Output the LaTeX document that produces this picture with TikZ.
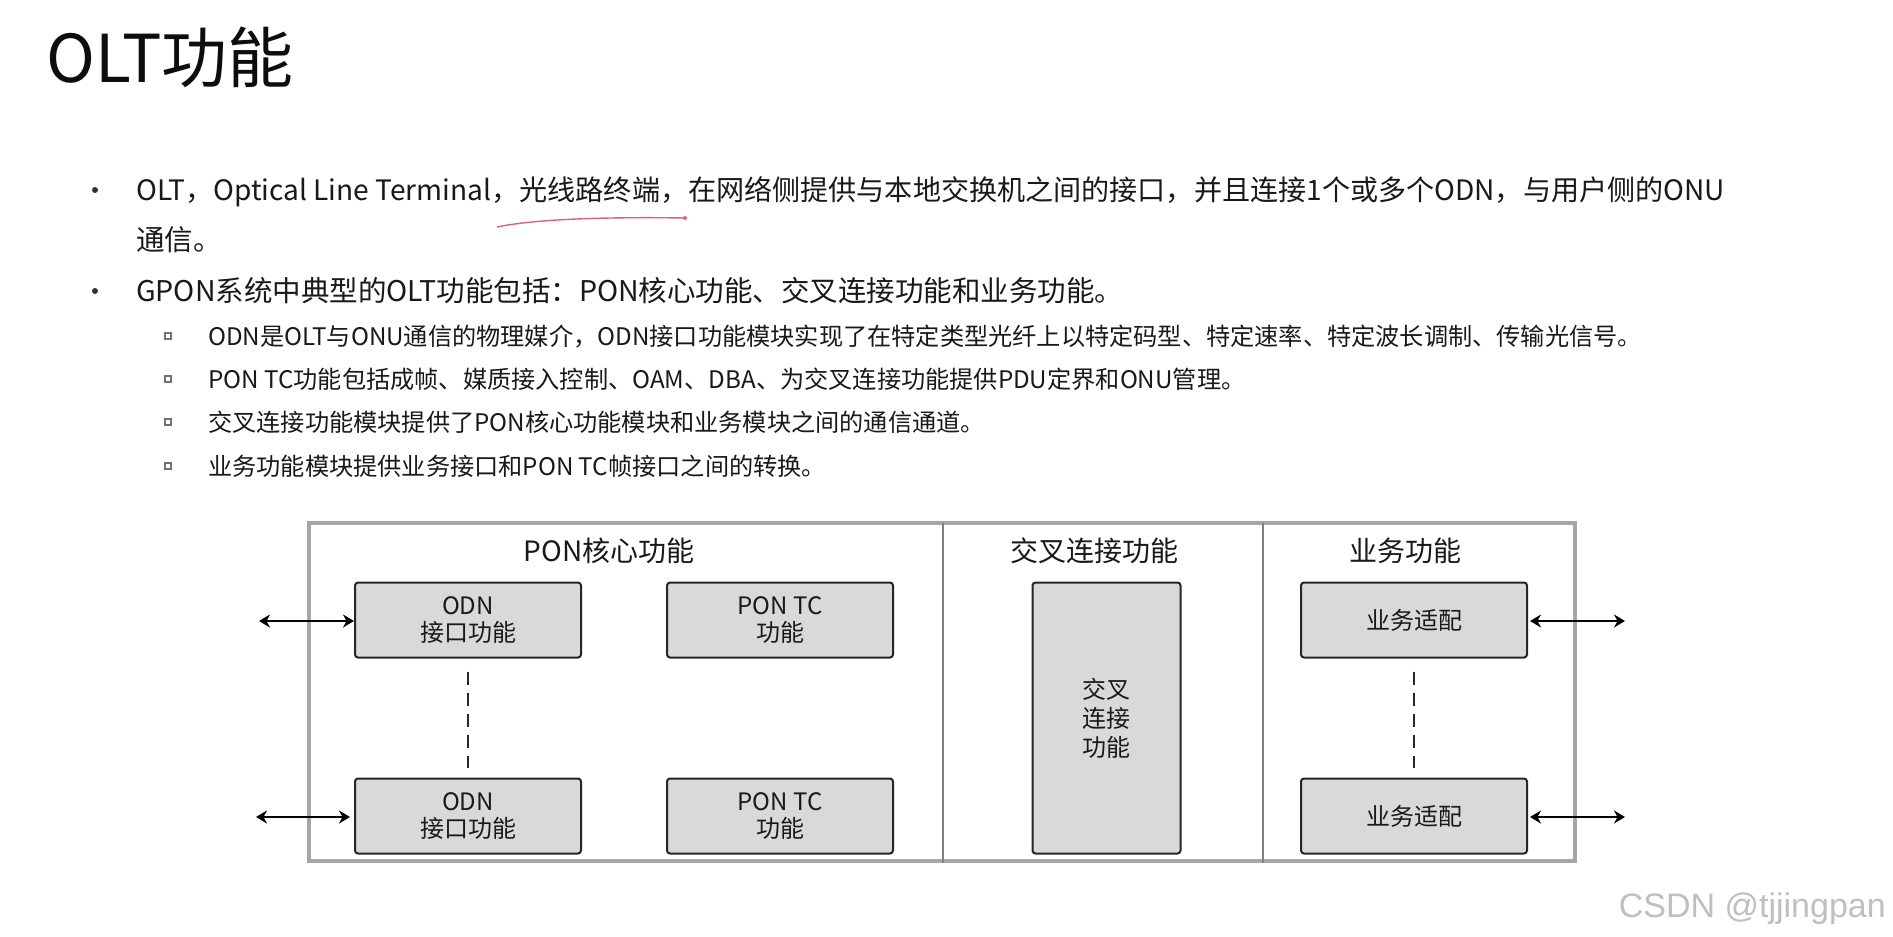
\documentclass[tikz,border=0pt]{standalone}
\usepackage{fontspec}
\setmainfont{Noto Sans CJK SC}
\usepackage{tikz}
\usetikzlibrary{arrows.meta, positioning}
\definecolor{boxgray}{RGB}{217, 217, 217}
\definecolor{framegray}{RGB}{166, 166, 166}
\definecolor{inkred}{RGB}{226, 96, 116}
\tikzset{
  titletext/.style={anchor=base west, inner sep=0pt, font=\fontsize{66}{68}\selectfont, text=black!95},
  maintext/.style={anchor=base west, inner sep=0pt, font=\fontsize{28.5}{32}\selectfont, text=black!90},
  subtext/.style={anchor=base west, inner sep=0pt, font=\fontsize{24.2}{28}\selectfont, text=black!90},
  headtext/.style={inner sep=0pt, font=\fontsize{28}{32}\selectfont, text=black!90},
  mainbullet/.style={circle, fill=black!80, inner sep=0pt, minimum size=6pt},
  subbullet/.style={rectangle, draw=black!55, line width=1.2pt, fill=white, inner sep=0pt, minimum size=6pt},
  funcbox/.style={draw=black!85, fill=boxgray, line width=2pt, rounded corners=3pt, inner sep=0pt, align=center, text=black!90, font=\fontsize{24}{28}\selectfont},
  smallbox/.style={funcbox, minimum width=226pt, minimum height=75pt},
  biarrow/.style={{Stealth[length=11pt,width=13pt]}-{Stealth[length=11pt,width=13pt]}, line width=2.8pt, black},
  gapline/.style={dashed, dash pattern=on 13pt off 8pt, line width=2.8pt, black!85},
  divider/.style={draw=black!50, line width=1.8pt},
}
\begin{document}
\begin{tikzpicture}[x=1pt, y=-1pt]
  \useasboundingbox (0,0) rectangle (1893,937);
  \fill[white] (0,0) rectangle (1893,937);

  \node[titletext] (title) at (46, 82) {OLT功能};

  \node[mainbullet] (b1) at (95, 190) {};
  \node[mainbullet] (b2) at (95, 291) {};
  \node[maintext, font=\fontsize{28.1}{32}\selectfont] (line1) at (136, 200) {OLT，Optical Line Terminal，光线路终端，在网络侧提供与本地交换机之间的接口，并且连接1个或多个ODN，与用户侧的ONU};
  \node[maintext] (line1b) at (136, 250) {通信。};
  \node[maintext] (line2) at (136, 301) {GPON系统中典型的OLT功能包括：PON核心功能、交叉连接功能和业务功能。};

  \node[subbullet] (s1) at (168, 336) {};
  \node[subbullet] (s2) at (168, 379) {};
  \node[subbullet] (s3) at (168, 422) {};
  \node[subbullet] (s4) at (168, 466) {};
  \node[subtext] (sub1) at (208, 345) {ODN是OLT与ONU通信的物理媒介，ODN接口功能模块实现了在特定类型光纤上以特定码型、特定速率、特定波长调制、传输光信号。};
  \node[subtext] (sub2) at (208, 388) {PON TC功能包括成帧、媒质接入控制、OAM、DBA、为交叉连接功能提供PDU定界和ONU管理。};
  \node[subtext] (sub3) at (208, 431) {交叉连接功能模块提供了PON核心功能模块和业务模块之间的通信通道。};
  \node[subtext] (sub4) at (208, 475) {业务功能模块提供业务接口和PON TC帧接口之间的转换。};

  % hand mark under the term
  \draw[inkred, line width=1.4pt] (497, 227) .. controls (540, 218) and (620, 217) .. (686, 218);
  \fill[inkred] (685, 218) circle (2pt);

  % frame and columns
  \node[draw=framegray, line width=3.5pt, minimum width=1266pt, minimum height=338pt, inner sep=0pt] (frame) at (942, 692) {};
  \coordinate (c1) at (943, 523);
  \coordinate (c2) at (1263, 523);
  \draw[divider] (c1) -- (c1 |- frame.south);
  \draw[divider] (c2) -- (c2 |- frame.south);

  \node[headtext] (headpon) at (609, 551) {PON核心功能};
  \node[headtext] (headcross) at (1094, 551) {交叉连接功能};
  \node[headtext] (headserv) at (1405, 551) {业务功能};

  \node[smallbox] (odntop) at (468, 620) {ODN\\[-0.5pt]接口功能};
  \node[smallbox] (odnbot) at (468, 816) {ODN\\[-0.5pt]接口功能};
  \node[smallbox] (tctop) at (780, 620) {PON TC\\[-0.5pt]功能};
  \node[smallbox] (tcbot) at (780, 816) {PON TC\\[-0.5pt]功能};
  \node[funcbox, minimum width=148pt, minimum height=271pt] (cross) at (1106.5, 718) {交叉\\[1pt]连接\\[1pt]功能};
  \node[smallbox] (servtop) at (1414, 620) {业务适配};
  \node[smallbox] (servbot) at (1414, 816) {业务适配};

  \draw[gapline] ([yshift=-13pt]odntop.south) -- ([yshift=10pt]odnbot.north);
  \draw[gapline] ([yshift=-13pt]servtop.south) -- ([yshift=10pt]servbot.north);

  \coordinate (lefttop) at (259, 621);
  \coordinate (leftbot) at (256, 817);
  \coordinate (righttop) at (1625, 621);
  \coordinate (rightbot) at (1625, 817);
  \draw[biarrow] (lefttop) -- (odntop.west |- lefttop);
  \draw[biarrow] (leftbot) -- ([xshift=-4pt]odnbot.west |- leftbot);
  \draw[biarrow] ([xshift=2pt]servtop.east |- righttop) -- (righttop);
  \draw[biarrow] ([xshift=2pt]servbot.east |- rightbot) -- (rightbot);

  \node[anchor=base east, inner sep=0pt, font=\fontsize{34}{36}\selectfont\fontspec{Liberation Sans}, text=black!25] (mark) at (1886, 917) {CSDN @tjjingpan};
\end{tikzpicture}
\end{document}
